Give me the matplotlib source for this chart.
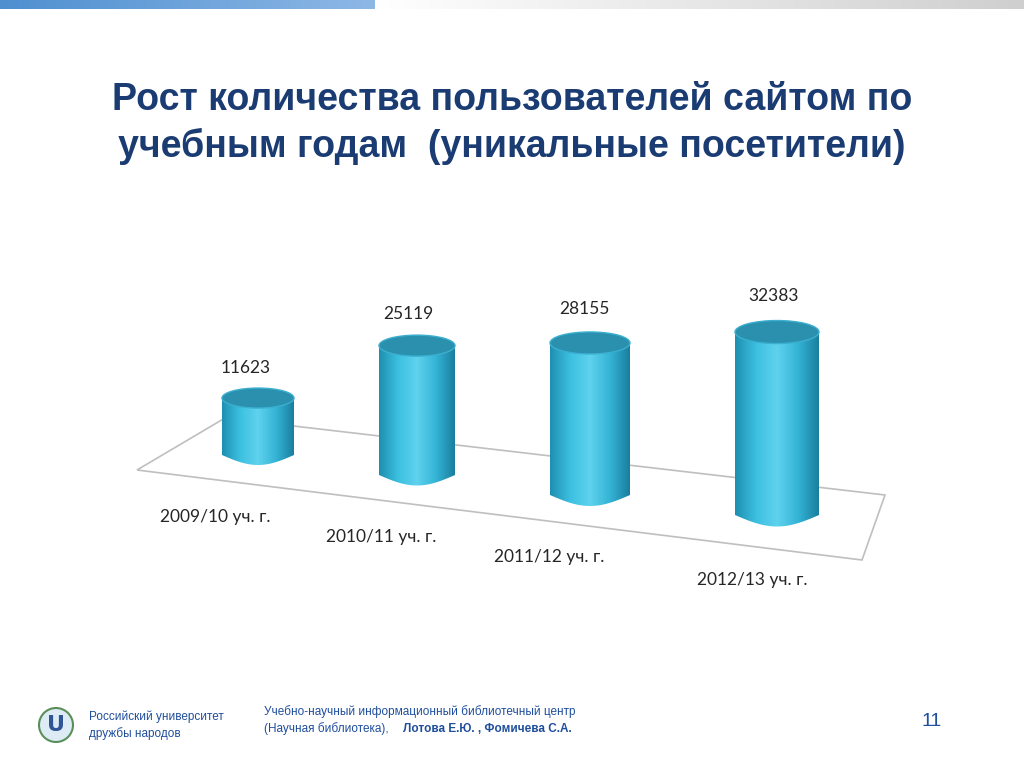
import matplotlib
matplotlib.use("Agg")
import matplotlib.pyplot as plt
import numpy as np
from matplotlib.patches import Ellipse, Polygon, PathPatch
from matplotlib.path import Path

categories = ["2009/10 уч. г.", "2010/11 уч. г.", "2011/12 уч. г.", "2012/13 уч. г."]
values = [11623, 25119, 28155, 32383]

fig = plt.figure(figsize=(10.24, 7.68), dpi=100)
ax = fig.add_axes([0, 0, 1, 1])
ax.set_xlim(0, 1024); ax.set_ylim(768, 0); ax.axis("off")

g = np.linspace(0, 1, 256)[None, :]
ax.imshow(g, extent=(0, 375, 9, 0), cmap=matplotlib.colors.LinearSegmentedColormap.from_list("b", ["#4F8FD0", "#8DB8E6"]), aspect="auto")
ax.imshow(g, extent=(375, 1024, 9, 0), cmap=matplotlib.colors.LinearSegmentedColormap.from_list("g", ["#FFFFFF", "#CFCFCF"]), aspect="auto")

ax.text(512, 100, "Рост количества пользователей сайтом по", ha="center", va="center",
        fontsize=27, fontweight="bold", color="#1A3C73", family="Liberation Sans")
ax.text(512, 146, "учебным годам  (уникальные посетители)", ha="center", va="center",
        fontsize=27, fontweight="bold", color="#1A3C73", family="Liberation Sans")

ax.add_patch(Polygon([(137, 470), (225, 418), (885, 495), (862, 560)], closed=True,
                     facecolor="white", edgecolor="#BFBFBF", lw=1.2, zorder=1))

body_cmap = matplotlib.colors.LinearSegmentedColormap.from_list(
    "c", ["#1E8FB0", "#3CC0E0", "#5FD2EE", "#34B4D6", "#1A7E9E"])
for i, (cat, v) in enumerate(zip(categories, values)):
    x = 258 + 159 * i + 7 * i * (i - 1)
    yb = 455 + 20 * i
    w = 72 + 4 * i
    scale = 0.0049 + 0.00025 * i
    h = v * scale
    yt = yb - h
    eh = 20 + 1 * i
    verts = [(x - w / 2, yt)] + [(x - w / 2 + w * k / 39, yb + eh / 2 * np.sin(np.pi * k / 39)) for k in range(40)] + [(x + w / 2, yt), (x - w / 2, yt)]
    path = Path(verts)
    im = ax.imshow(g, extent=(x - w / 2, x + w / 2, yb + eh, yt), cmap=body_cmap, aspect="auto", zorder=2)
    im.set_clip_path(PathPatch(path, transform=ax.transData))
    ax.add_patch(Ellipse((x, yt), w, eh, facecolor="#2B8FAE", edgecolor="#3AAFCF", lw=1, zorder=3))
    ax.text(x - 12 + 3 * i, yt - 30 - 2 * i, f"{v}", ha="center", va="center", fontsize=12.5,
            color="#262626", family="Lato")
    lx = [215, 381, 549, 752][i]
    ly = 517 + 20 * i + (i == 3) * 3
    ax.text(lx, ly, cat, ha="center", va="center", fontsize=12.5, color="#262626", family="Lato")

ax.add_patch(Ellipse((56, 725), 34, 34, facecolor="#DDEBF5", edgecolor="#5A8F5A", lw=1.5))
ax.text(56, 725, "U", ha="center", va="center", fontsize=16, color="#2F5597", fontweight="bold")
ax.text(89, 717, "Российский университет", fontsize=8.5, color="#1F4E9C", va="center", family="Liberation Sans")
ax.text(89, 734, "дружбы народов", fontsize=8.5, color="#1F4E9C", va="center", family="Liberation Sans")
ax.text(264, 712, "Учебно-научный информационный библиотечный центр", fontsize=8.5, color="#1F4E9C", va="center", family="Liberation Sans")
ax.text(264, 729, "(Научная библиотека),", fontsize=8.5, color="#1F4E9C", va="center", family="Liberation Sans")
ax.text(403, 729, "Лотова Е.Ю. , Фомичева С.А.", fontsize=8.5, color="#1F4E9C", va="center", fontweight="bold", family="Liberation Sans")
ax.text(932, 722, "11", fontsize=14, color="#1F4E9C", ha="center", va="center", family="Liberation Sans")

fig.savefig("out.png", dpi=100)
